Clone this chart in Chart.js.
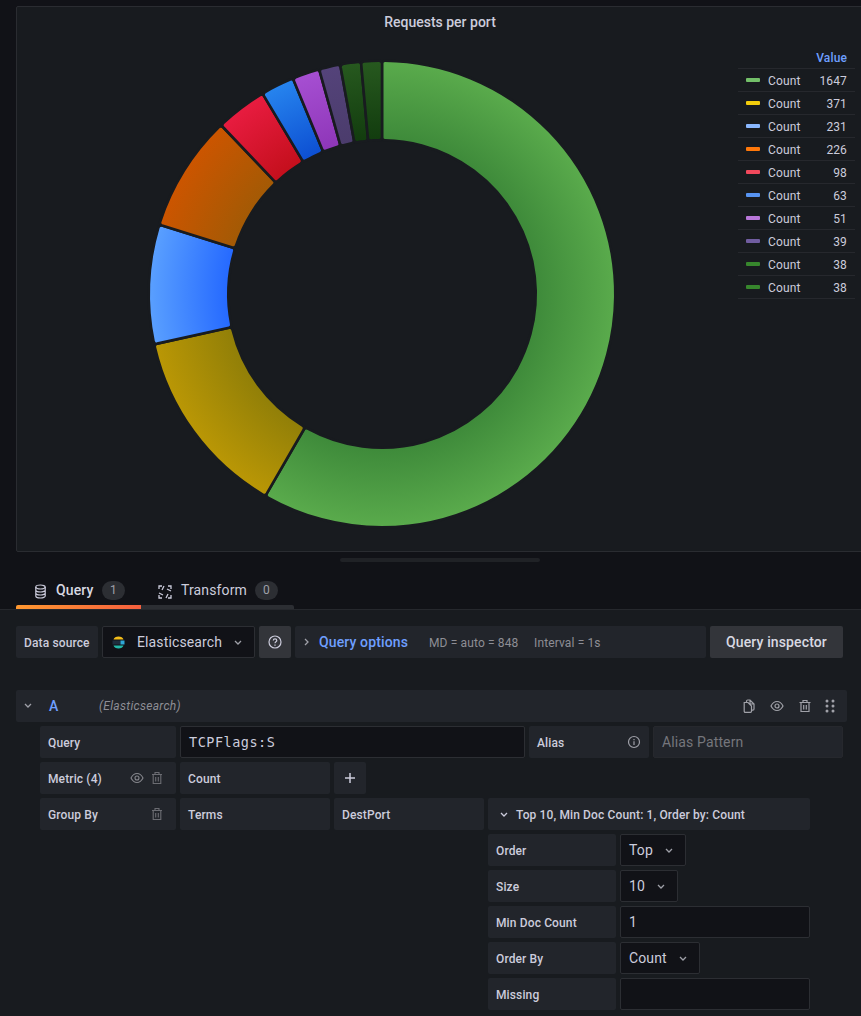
<!DOCTYPE html>
<html>
<head>
<meta charset="utf-8">
<script src="https://cdn.jsdelivr.net/npm/chart.js@4"></script>
<style>
  html, body { margin: 0; padding: 0; background: #111217; width: 861px; height: 1016px; overflow: hidden; }
  body { position: relative; font-family: Roboto, sans-serif; font-size: 12px; color: #ccccdc; letter-spacing: 0.13px; }
  .abs { position: absolute; box-sizing: border-box; white-space: nowrap; }
  .lbl { background: #22252b; border-radius: 2px; font-weight: 500; height: 32px; line-height: 35px; padding-left: 8px; color: #ccccdc; }
  .inp { background: #111217; border: 1px solid #2c2e33; border-radius: 2px; height: 32px; line-height: 31px; padding-left: 8px; font-size: 14px; color: #ccccdc; }
  .flat { background: #22252b; border-radius: 2px; height: 32px; line-height: 33px; padding-left: 8px; }
  svg { position: absolute; fill: none; stroke: currentColor; }
  #panel { left: 16px; top: 6px; width: 850px; height: 546px; background: #181b1f; border: 1px solid #2a2c31; border-radius: 2px; }
  #bottom { left: 0; top: 609px; width: 861px; height: 407px; background: #181b1f; border-top: 1px solid #26282d; }
  #title { left: 16px; top: 13px; width: 848px; text-align: center; font-size: 14px; font-weight: 500; line-height: 18px; letter-spacing: 0; }
  #chartWrap { left: 140px; top: 52px; width: 484px; height: 484px; }
  .legRow { left: 738px; width: 117px; height: 23px; border-bottom: 1px solid #26282d; line-height: 25px; }
  .swatch { position: absolute; left: 8px; top: 9px; width: 14px; height: 4px; border-radius: 1px; }
  .legName { position: absolute; left: 30px; top: 0; }
  .legVal { position: absolute; right: 8px; top: 0; }
  .badge { background: #2c2e33; border-radius: 10px; height: 19px; width: 23px; line-height: 19px; text-align: center; color: #9fa0a8; }
</style>
</head>
<body>
<div class="abs" id="panel"></div>
<div class="abs" id="title">Requests per port</div>
<div class="abs" id="chartWrap"><canvas id="pie" width="484" height="484"></canvas></div>
<div class="abs" style="left:738px;top:46px;width:109px;text-align:right;color:#6e9fff;font-weight:500;line-height:24px">Value</div>
<div class="abs" style="left:738px;top:68px;width:117px;height:1px;background:#26282d"></div>
<div id="legend"></div>

<div class="abs" style="left:340px;top:558px;width:200px;height:4px;background:#202226;border-radius:2px"></div>
<div class="abs" id="bottom"></div>

<!-- tabs -->
<div class="abs" style="left:141px;top:605px;width:153px;height:4px;background:#2c2e33;border-radius:0 2px 0 0"></div>
<div class="abs" style="left:16px;top:605px;width:125px;height:4px;background:linear-gradient(90deg,#ff9830,#f55f3e);border-radius:2px 0 0 0"></div>
<svg style="left:34px;top:584px;color:#ccccdc" width="13" height="15" viewBox="0 0 13 15" stroke-width="1.2"><ellipse cx="6.5" cy="3" rx="4.7" ry="2"/><path d="M1.8 3v9c0 1.1 2.1 2 4.7 2s4.700-.9 4.700-2V3M1.800 6c0 1.100 2.100 2 4.700 2s4.700-.9 4.700-2M1.800 9c0 1.100 2.100 2 4.700 2s4.700-.9 4.700-2"/></svg>
<div class="abs" style="left:56px;top:581px;font-size:14px;font-weight:500;line-height:18px;color:#d8d9e2">Query</div>
<div class="abs badge" style="left:102px;top:581px">1</div>
<svg style="left:158px;top:585px;color:#ccccdc" width="14" height="14" viewBox="0 0 14 14" stroke-width="1.300"><path d="M1 4V1h3M10 1h3v3M13 10v3h-3M4 13H1v-3M4 5L6 1M10 9l-2 4M9 4l4 2M5 10L1 8"/></svg>
<div class="abs" style="left:181px;top:581px;font-size:14px;line-height:18px;color:#ccccdc">Transform</div>
<div class="abs badge" style="left:255px;top:581px">0</div>

<!-- data source row -->
<div class="abs lbl" style="left:16px;top:626px;width:82px">Data source</div>
<div class="abs inp" style="left:102px;top:626px;width:153px;padding-left:34px">Elasticsearch</div>
<svg style="left:112px;top:636px;stroke:none" width="13" height="13" viewBox="0 0 13 13"><path d="M1.500 3.500C2 1.500 4 .5 6.500.5s4.500 1 5 3z" fill="#f4bd19"/><path d="M0.500 4.500h8v4h-8z" fill="#1f2d3d"/><path d="M8.500 4.500h4v4h-4z" fill="#2fa8d8"/><path d="M1.500 9.500h10c-.5 2-2.500 3-5 3s-4.500-1-5-3z" fill="#22b8a8"/></svg>
<svg style="left:233px;top:639px;color:#9fa0a8" width="10" height="7" viewBox="0 0 10 7" stroke-width="1.300"><path d="M2 2l3 3 3-3"/></svg>
<div class="abs" style="left:259px;top:626px;width:32px;height:32px;background:#33353a;border-radius:2px"></div>
<svg style="left:268px;top:635px;color:#ccccdc" width="14" height="14" viewBox="0 0 14 14" stroke-width="1.200"><circle cx="7" cy="7" r="6"/><path d="M5.300 5.500c0-2.200 3.500-2.200 3.500 0 0 1.300-1.800 1.300-1.800 2.700M7 9.500v1.200"/></svg>
<div class="abs flat" style="left:295px;top:626px;width:411px"></div>
<svg style="left:303px;top:637px;color:#9fa0a8" width="7" height="10" viewBox="0 0 7 10" stroke-width="1.300"><path d="M2 2l3 3-3 3"/></svg>
<div class="abs" style="left:319px;top:633px;font-size:14px;font-weight:500;line-height:18px;color:#6e9fff">Query options</div>
<div class="abs" style="left:429px;top:634px;line-height:18px;color:#8e8e95">MD = auto = 848</div>
<div class="abs" style="left:534px;top:634px;line-height:18px;color:#8e8e95">Interval = 1s</div>
<div class="abs" style="left:710px;top:626px;width:133px;height:32px;background:#33353a;border-radius:2px;text-align:center;line-height:32px;font-size:14px;font-weight:500;color:#d8d9e2">Query inspector</div>

<!-- query row header -->
<div class="abs flat" style="left:16px;top:690px;width:831px"></div>
<svg style="left:23px;top:702px;color:#9fa0a8" width="10" height="7" viewBox="0 0 10 7" stroke-width="1.300"><path d="M2 2l3 3 3-3"/></svg>
<div class="abs" style="left:49px;top:697px;font-size:14px;font-weight:500;line-height:18px;color:#6e9fff">A</div>
<div class="abs" style="left:99px;top:697px;font-style:italic;line-height:18px;color:#8e8e95;letter-spacing:0.3px">(Elasticsearch)</div>
<svg style="left:742px;top:699px;color:#a0a1a8" width="14" height="14" viewBox="0 0 14 14" stroke-width="1.200"><path d="M4.500 3V2.200C4.500 1.500 5 1 5.700 1H8l4 4v5c0 .7-.5 1.200-1.200 1.200H9.500M8 1v4h4M2.200 3.500H6l3.500 3.500v5.300c0 .5-.4 1-1 1H3.200c-.6 0-1-.5-1-1z"/></svg>
<svg style="left:770px;top:700px;color:#a0a1a8" width="14" height="12" viewBox="0 0 14 12" stroke-width="1.200"><path d="M1 6c3-6 9-6 12 0-3 6-9 6-12 0z"/><circle cx="7" cy="6" r="2"/></svg>
<svg style="left:798px;top:699px;color:#a0a1a8" width="14" height="14" viewBox="0 0 14 14" stroke-width="1.200"><path d="M1.500 3.500h11M5 3.500V1.500h4v2M3 3.500v9h8v-9M5.700 6v4.500M8.300 6v4.500"/></svg>
<svg style="left:825px;top:699px;stroke:none;color:#a0a1a8" width="10" height="14" viewBox="0 0 10 14"><g fill="#a0a1a8"><circle cx="2" cy="2" r="1.500"/><circle cx="8" cy="2" r="1.500"/><circle cx="2" cy="7" r="1.500"/><circle cx="8" cy="7" r="1.500"/><circle cx="2" cy="12" r="1.500"/><circle cx="8" cy="12" r="1.500"/></g></svg>

<!-- query form -->
<div class="abs lbl" style="left:40px;top:726px;width:136px">Query</div>
<div class="abs inp" style="left:180px;top:726px;width:345px;font-family:'DejaVu Sans Mono',monospace;font-size:13.500px;letter-spacing:0.5px">TCPFlags:S</div>
<div class="abs lbl" style="left:529px;top:726px;width:120px">Alias</div>
<svg style="left:627px;top:735px;color:#9fa0a8" width="14" height="14" viewBox="0 0 14 14" stroke-width="1.200"><circle cx="7" cy="7" r="5.500"/><path d="M7 6.300v3.700M7 4v1.200"/></svg>
<div class="abs" style="left:653px;top:726px;width:190px;height:32px;background:#22252b;border:1px solid #26282d;border-radius:2px;line-height:31px;padding-left:8px;font-size:14px;color:#75767c">Alias Pattern</div>

<div class="abs lbl" style="left:40px;top:762px;width:136px">Metric (4)</div>
<svg style="left:130px;top:772px;color:#85868c" width="14" height="12" viewBox="0 0 14 12" stroke-width="1.100"><path d="M1 6c3-6 9-6 12 0-3 6-9 6-12 0z"/><circle cx="7" cy="6" r="2"/></svg>
<svg style="left:150px;top:771px;color:#6b6c72" width="14" height="14" viewBox="0 0 14 14" stroke-width="1.100"><path d="M2 3.500h10M5 3.500V1.500h4v2M3.200 3.500v9h7.600v-9M5.700 6v4.500M8.300 6v4.500"/></svg>
<div class="abs lbl" style="left:180px;top:762px;width:150px">Count</div>
<div class="abs" style="left:334px;top:762px;width:32px;height:32px;background:#22252b;border-radius:2px"></div>
<svg style="left:344px;top:772px;color:#ccccdc" width="12" height="12" viewBox="0 0 12 12" stroke-width="1.500"><path d="M6 1v10M1 6h10"/></svg>

<div class="abs lbl" style="left:40px;top:798px;width:136px">Group By</div>
<svg style="left:150px;top:807px;color:#6b6c72" width="14" height="14" viewBox="0 0 14 14" stroke-width="1.100"><path d="M2 3.500h10M5 3.500V1.500h4v2M3.200 3.500v9h7.600v-9M5.700 6v4.500M8.300 6v4.500"/></svg>
<div class="abs lbl" style="left:180px;top:798px;width:150px">Terms</div>
<div class="abs lbl" style="left:334px;top:798px;width:150px">DestPort</div>
<div class="abs lbl" style="left:488px;top:798px;width:322px;padding-left:28px">Top 10, Min Doc Count: 1, Order by: Count</div>
<svg style="left:499px;top:811px;color:#ccccdc" width="10" height="7" viewBox="0 0 10 7" stroke-width="1.300"><path d="M2 2l3 3 3-3"/></svg>

<div class="abs lbl" style="left:488px;top:834px;width:128px">Order</div>
<div class="abs inp" style="left:620px;top:834px;width:66px">Top</div>
<svg style="left:664px;top:847px;color:#9fa0a8" width="10" height="7" viewBox="0 0 10 7" stroke-width="1.300"><path d="M2 2l3 3 3-3"/></svg>
<div class="abs lbl" style="left:488px;top:870px;width:128px">Size</div>
<div class="abs inp" style="left:620px;top:870px;width:58px">10</div>
<svg style="left:656px;top:883px;color:#9fa0a8" width="10" height="7" viewBox="0 0 10 7" stroke-width="1.300"><path d="M2 2l3 3 3-3"/></svg>
<div class="abs lbl" style="left:488px;top:906px;width:128px">Min Doc Count</div>
<div class="abs inp" style="left:620px;top:906px;width:190px">1</div>
<div class="abs lbl" style="left:488px;top:942px;width:128px">Order By</div>
<div class="abs inp" style="left:620px;top:942px;width:80px">Count</div>
<svg style="left:678px;top:955px;color:#9fa0a8" width="10" height="7" viewBox="0 0 10 7" stroke-width="1.300"><path d="M2 2l3 3 3-3"/></svg>
<div class="abs lbl" style="left:488px;top:978px;width:128px">Missing</div>
<div class="abs inp" style="left:620px;top:978px;width:190px"></div>

<script>
const seriesNames = ['Count', 'Count', 'Count', 'Count', 'Count', 'Count', 'Count', 'Count', 'Count', 'Count'];
const seriesValues = [1647, 371, 231, 226, 98, 63, 51, 39, 38, 38];
const legendColors = ['#73bf69', '#f2cc0c', '#8ab8ff', '#ff780a', '#f2495c', '#5794f2', '#b877d9', '#705da0', '#37872d', '#37872d'];
// slice colours differ from the legend: darker toward the hole
const outerColors = ['#5aab4c', '#ba9705', '#5aa0ff', '#cc5500', '#e81c40', '#2684ee', '#a64fd2', '#54437a', '#27591f', '#27591f'];
const innerColors = ['#3e8a3a', '#917f08', '#2569ff', '#a35a05', '#c40f1c', '#0d4fd2', '#8e36b8', '#4b3c6c', '#123c0e', '#123c0e'];

// legend rows
const legend = document.getElementById('legend');
seriesNames.forEach(function (name, i) {
  const row = document.createElement('div');
  row.className = 'abs legRow';
  row.style.top = (69 + i * 23) + 'px';
  row.innerHTML = '<span class="swatch" style="background:' + legendColors[i] + '"></span>' +
    '<span class="legName">' + name + '</span>' +
    '<span class="legVal">' + seriesValues[i] + '</span>';
  legend.appendChild(row);
});

// the original pie gives every slice the same pad angle on top of its share
const padAngle = 0.33 * Math.PI / 180;
Chart.DoughnutController.prototype.calculateCircumference = function (value) {
  const meta = this._cachedMeta;
  const free = 2 * Math.PI - meta.data.length * padAngle;
  return meta.total > 0 ? free * Math.abs(value) / meta.total + padAngle : 0;
};

new Chart(document.getElementById('pie'), {
  type: 'doughnut',
  data: {
    labels: seriesNames,
    datasets: [{
      data: seriesValues,
      backgroundColor: function (c) {
        const ctrl = c.chart.getDatasetMeta(0).controller;
        const area = c.chart.chartArea;
        if (!area || !ctrl.outerRadius) return outerColors[c.dataIndex];
        const cx = (area.left + area.right) / 2;
        const cy = (area.top + area.bottom) / 2;
        const g = c.chart.ctx.createRadialGradient(cx, cy, ctrl.innerRadius, cx, cy, ctrl.outerRadius);
        g.addColorStop(0, innerColors[c.dataIndex]);
        g.addColorStop(1, outerColors[c.dataIndex]);
        return g;
      },
      // panel-coloured border gives even gaps, spacing would make them wedge shaped
      borderColor: '#181b1f',
      borderWidth: 2.6,
      borderAlign: 'center',
      borderRadius: 3
    }]
  },
  options: {
    responsive: false,
    animation: false,
    cutout: '65.9%',
    layout: { padding: 7.4 },
    plugins: { legend: { display: false }, tooltip: { enabled: false } }
  }
});
</script>
</body>
</html>
